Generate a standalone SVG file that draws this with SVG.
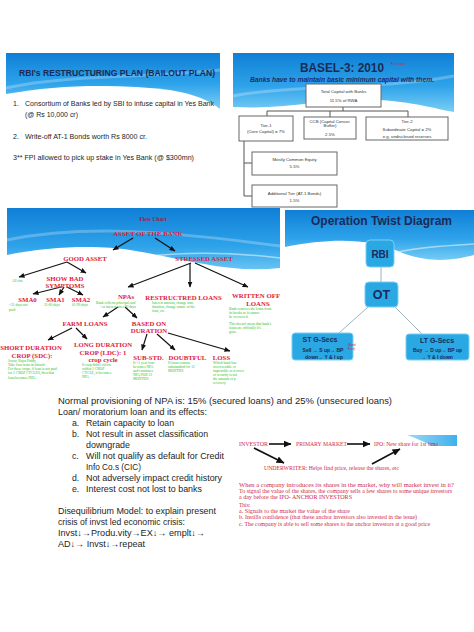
<svg xmlns="http://www.w3.org/2000/svg" width="474" height="632" viewBox="0 0 474 632">
<style>
.ttl{font-family:"Liberation Sans",Arial,sans-serif;font-weight:bold;fill:#1b2a55}
.body{font-family:"Liberation Sans",Arial,sans-serif;fill:#1e1e1e}
.fc{font-family:"Liberation Serif","Times New Roman",serif;font-weight:bold;fill:#e01a3c;font-size:6.8px;text-anchor:middle}
.gr{font-family:"Liberation Serif","Times New Roman",serif;fill:#27c427;font-size:3.6px}
.ipo{font-family:"Liberation Serif","Times New Roman",serif;fill:#d02848;font-size:5.5px}
.box{fill:#fff;stroke:#666;stroke-width:1}
.bx{font-family:"Liberation Sans",Arial,sans-serif;font-size:4.3px;fill:#333;text-anchor:middle}
.ot{fill:#29a8e4;stroke:#7acff3;stroke-width:1}
.ott{font-family:"Liberation Sans",Arial,sans-serif;font-weight:bold;fill:#1b2a5c;text-anchor:middle}
.arr{stroke:#111;stroke-width:1.2;fill:none;marker-end:url(#ah)}
.arr2{stroke:#111;stroke-width:1.6;fill:none;marker-end:url(#ah2)}
.con{stroke:#555;stroke-width:1;fill:none}
.otl{stroke:#9cb4c0;stroke-width:1;fill:none}
.wave{fill:#fff}
</style>
<defs>
<linearGradient id="hdr" x1="0" y1="0" x2="0" y2="1">
<stop offset="0" stop-color="#0f7fd6"/>
<stop offset="0.55" stop-color="#2ea3ea"/>
<stop offset="1" stop-color="#7dcff5"/>
</linearGradient>
<linearGradient id="lb" x1="0" y1="0" x2="1" y2="0">
<stop offset="0" stop-color="#9ad9f7"/>
<stop offset="1" stop-color="#3fb0ec"/>
</linearGradient>
<marker id="ah" markerUnits="userSpaceOnUse" markerWidth="6" markerHeight="5" refX="5.5" refY="2.5" orient="auto">
<path d="M0,0 L6,2.5 L0,5 z" fill="#111"/>
</marker>
<marker id="ah2" markerUnits="userSpaceOnUse" markerWidth="8" markerHeight="7" refX="7.5" refY="3.5" orient="auto">
<path d="M0,0 L8,3.5 L0,7 z" fill="#111"/>
</marker>
</defs>
<rect width="474" height="632" fill="#fff"/>

<!-- Panel 1 -->
<g id="panel-rbi">
<rect x="6" y="53" width="214" height="56" fill="url(#hdr)"/>
<path d="M6,88 C70,74 150,78 220,70" stroke="#fff" stroke-opacity="0.25" stroke-width="3" fill="none"/>
<path class="wave" d="M6,110 L6,94 C60,84 120,84 170,90 C195,94 210,101 220,109 L220,110 Z"/>
<text class="ttl" x="19" y="75.5" font-size="9.5" textLength="196" lengthAdjust="spacingAndGlyphs">RBI's RESTRUCTURING PLAN (BAILOUT PLAN)</text>
<text class="body" x="13" y="105.5" font-size="7">1.</text>
<text class="body" x="25" y="105.5" font-size="7" textLength="189" lengthAdjust="spacingAndGlyphs">Consortium of Banks led by SBI to infuse capital in Yes Bank</text>
<text class="body" x="25" y="116.5" font-size="7" textLength="53" lengthAdjust="spacingAndGlyphs">(@ Rs 10,000 cr)</text>
<text class="body" x="13" y="138.5" font-size="7">2.</text>
<text class="body" x="25" y="138.5" font-size="7" textLength="122" lengthAdjust="spacingAndGlyphs">Write-off AT-1 Bonds worth Rs 8000 cr.</text>
<text class="body" x="13" y="159.5" font-size="7" textLength="181" lengthAdjust="spacingAndGlyphs">3** FPI allowed to pick up stake in Yes Bank (@ $300mn)</text>
</g>

<!-- Panel 2 -->
<g id="panel-basel">
<rect x="233" y="53" width="221" height="60" fill="url(#hdr)"/>
<path d="M233,96 C300,84 380,90 454,76" stroke="#fff" stroke-opacity="0.25" stroke-width="3" fill="none"/>
<path class="wave" d="M233,114 L233,107 C290,110 330,97 380,100 C420,103 440,110 454,112 L454,114 Z"/>
<text class="ttl" x="300" y="71.5" font-size="12.5" textLength="84" lengthAdjust="spacingAndGlyphs">BASEL-3: 2010</text>
<text x="391" y="65" font-family="Liberation Sans,Arial,sans-serif" font-size="3.5" fill="#d0203c">Fin Index</text>
<text x="250" y="81.5" font-family="Liberation Sans,Arial,sans-serif" font-size="7.2" font-weight="bold" font-style="italic" fill="#1f2d6a" textLength="184" lengthAdjust="spacingAndGlyphs">Banks have to maintain basic minimum capital with them.</text>
</g>
<g id="basel-connectors">
<path class="con" d="M343,107 V111 M267,111 H408 M267,111 V116 M330,111 V117 M408,111 V117 M244,141 V196 M244,163 H252 M244,196 H252"/>
</g>
<g id="n-total"><rect class="box" x="306" y="84" width="75" height="23"/><text class="bx" x="343.5" y="93">Total Capital with Banks</text><text class="bx" x="343.5" y="102">11.5% of RWA</text></g>
<g id="n-tier1"><rect class="box" x="239" y="116" width="54" height="25"/><text class="bx" x="266" y="126.5">Tier-1</text><text class="bx" x="266" y="133">(Core Capital) = 7%</text></g>
<g id="n-ccb"><rect class="box" x="304" y="117" width="52" height="22"/><text class="bx" x="330" y="122.5">CCB (Capital Conser.</text><text class="bx" x="330" y="127">Buffer)</text><text class="bx" x="330" y="135.5">2.5%</text></g>
<g id="n-tier2"><rect class="box" x="366" y="117" width="82" height="23"/><text class="bx" x="407" y="122.5">Tier-2</text><text class="bx" x="407" y="130.8">Subordinate Capital = 2%</text><text class="bx" x="407" y="138">e.g. undisclosed reserves</text></g>
<g id="n-common"><rect class="box" x="252" y="152" width="85" height="23"/><text class="bx" x="294.5" y="160.5">Mostly Common Equity</text><text class="bx" x="294.5" y="168">5.5%</text></g>
<g id="n-at1"><rect class="box" x="252" y="185" width="85" height="22"/><text class="bx" x="294.5" y="195">Additional Tier (AT-1 Bonds)</text><text class="bx" x="294.5" y="202">1.5%</text></g>

<!-- Panel 3: flow chart -->
<g id="panel-flow">
<rect x="7" y="208" width="273" height="70" fill="url(#hdr)"/>
<path d="M7,240 C80,225 160,230 280,246" stroke="#fff" stroke-opacity="0.25" stroke-width="3" fill="none"/>
<path d="M110,262 C170,250 230,252 280,258" stroke="#fff" stroke-opacity="0.5" stroke-width="1.5" fill="none"/>
<path class="wave" d="M7,279 L7,255 C50,246 100,245 130,250 C180,258 230,274 280,268 L280,279 Z"/>
<text x="153" y="221" font-family="Liberation Serif,Times New Roman,serif" font-weight="bold" font-size="5.5" fill="#b0123a" text-anchor="middle">Flow Chart</text>
</g>
<g id="flow-connectors">
<path class="arr" d="M133,238 L113,250"/>
<path class="arr" d="M155,238 L175,251"/>
<path class="arr" d="M67,262 L19,277"/>
<path class="arr" d="M67,262 L86,273"/>
<path class="arr" d="M61,287 L33,294"/>
<path class="arr" d="M64,287 L59,295"/>
<path class="arr" d="M67,287 L83,295"/>
<path class="arr" d="M191,263 L128,287"/>
<path class="arr" d="M190,263 L190,287"/>
<path class="arr" d="M195,263 L248,287"/>
<path class="arr" d="M118,307 L103,317"/>
<path class="arr" d="M125,307 L137,318"/>
<path class="arr" d="M72,328 L48,340"/>
<path class="arr" d="M76,328 L87,339"/>
<path class="arr" d="M147,334 L142,350"/>
<path class="arr" d="M157,334 L175,350"/>
<path class="arr" d="M168,333 L230,351"/>
</g>
<g id="f-asset"><text class="fc" x="148" y="235.5">ASSET OF THE BANK</text></g>
<g id="f-good"><text class="fc" x="85" y="260.5">GOOD ASSET</text><text class="gr" x="12" y="282">All fine</text></g>
<g id="f-stressed"><text class="fc" x="204" y="260.5">STRESSED ASSET</text></g>
<g id="f-bad"><text class="fc" x="65" y="280.5">SHOW BAD</text><text class="fc" x="65" y="287.5">SYMPTOMS</text></g>
<g id="f-sma0"><text class="fc" x="27.5" y="301.5">SMA0</text><text class="gr" x="9" y="306">&lt;31 days not</text><text class="gr" x="9" y="311">paid</text></g>
<g id="f-sma1"><text class="fc" x="55.5" y="301.5">SMA1</text><text class="gr" x="44" y="306">31-60 days</text></g>
<g id="f-sma2"><text class="fc" x="81" y="301.5">SMA2</text><text class="gr" x="72" y="306">61-90 days</text></g>
<g id="f-npa"><text class="fc" x="126" y="299">NPAs</text><text class="gr" x="96" y="304">Bank collects principal and</text><text class="gr" x="100" y="308">/ or interest after 90 days</text></g>
<g id="f-restr"><text class="fc" x="183.5" y="299.5">RESTRUCTRED LOANS</text><text class="gr" x="152" y="304">Interest amount, change time</text><text class="gr" x="152" y="308">duration, change nature of the</text><text class="gr" x="152" y="312">loan, etc.</text></g>
<g id="f-written"><text class="fc" x="256" y="297.5">WRITTEN OFF</text><text class="fc" x="258" y="305.5">LOANS</text>
<text class="gr" x="229" y="309.5">Bank removes the loans from</text><text class="gr" x="229" y="313.5">its books as it cannot</text><text class="gr" x="229" y="317.5">be recovered.</text>
<text class="gr" x="229" y="324.5">This doesn't mean that bank's</text><text class="gr" x="229" y="328.5">loans are officially it's</text><text class="gr" x="229" y="332.5">gone.</text></g>
<g id="f-farm"><text class="fc" x="85" y="325.5">FARM LOANS</text></g>
<g id="f-based"><text class="fc" x="149" y="325.5">BASED ON</text><text class="fc" x="149" y="332.5">DURATION</text></g>
<g id="f-sdc"><text class="fc" x="31" y="349.5">SHORT DURATION</text><text class="fc" x="32" y="357.5">CROP (SDC):</text>
<text class="gr" x="8" y="361.5">Jowar, Bajra Paddy</text><text class="gr" x="8" y="365.8">Take loan from its branch</text><text class="gr" x="8" y="370.1">For these crops, if loan is not paid</text><text class="gr" x="8" y="374.4">for 2 CROP CYCLES, then that</text><text class="gr" x="8" y="378.7">loan becomes NPA.</text></g>
<g id="f-ldc"><text class="fc" x="103" y="346.5">LONG DURATION</text><text class="fc" x="103" y="354.5">CROP (LDC): 1</text><text class="fc" x="103" y="361.5">crop cycle</text>
<text class="gr" x="82" y="365.5">If crop didn't effects</text><text class="gr" x="82" y="369.8">within 1 CROP</text><text class="gr" x="82" y="374.1">CYCLE, it becomes</text><text class="gr" x="82" y="378.4">NPA</text></g>
<g id="f-sub"><text class="fc" x="148.5" y="359.5">SUB-STD.</text>
<text class="gr" x="133" y="363.5">If &gt;1 year loan</text><text class="gr" x="133" y="367.5">becomes NPA</text><text class="gr" x="133" y="371.5">and continues</text><text class="gr" x="133" y="375.5">NPA FOR 12</text><text class="gr" x="133" y="379.5">MONTHS.</text></g>
<g id="f-doubt"><text class="fc" x="187.5" y="359.5">DOUBTFUL</text>
<text class="gr" x="168" y="363.5">If loans remain</text><text class="gr" x="168" y="367.5">substandard for 12</text><text class="gr" x="168" y="371.5">MONTHS</text></g>
<g id="f-loss"><text class="fc" x="221.5" y="359.5">LOSS</text>
<text class="gr" x="213" y="363.5">Which bank has</text><text class="gr" x="213" y="367.5">irrecoverable or</text><text class="gr" x="213" y="371.5">impossible to recover</text><text class="gr" x="213" y="375.5">of security is not</text><text class="gr" x="213" y="379.5">the amount of p</text><text class="gr" x="213" y="383.5">recovery.</text></g>

<!-- Panel 4: Operation Twist -->
<g id="panel-ot">
<rect x="285" y="210" width="189" height="52" fill="url(#hdr)"/>
<path d="M380,256 C410,248 440,246 474,244" stroke="#fff" stroke-opacity="0.5" stroke-width="1.5" fill="none"/>
<path class="wave" d="M285,263 L285,247 C330,238 370,238 400,252 C430,264 455,260 474,255 L474,263 Z"/>
<text class="ttl" x="311" y="224.5" font-size="12" textLength="141" lengthAdjust="spacingAndGlyphs">Operation Twist Diagram</text>
</g>
<g id="ot-connectors">
<path class="otl" d="M381,267 V282 M368,307 L339,333 M395,307 L422,334"/>
</g>
<g id="n-rbi"><rect class="ot" x="366" y="240" width="28" height="27" rx="4"/><text class="ott" x="380" y="258" font-size="10">RBI</text></g>
<g id="n-ot"><rect class="ot" x="365" y="282" width="33" height="25" rx="4"/><text class="ott" x="381.5" y="299" font-size="12.5">OT</text></g>
<g id="n-st"><rect class="ot" x="292" y="333" width="61" height="27" rx="3"/><text class="ott" x="320" y="341.5" font-size="7">ST G-Secs</text><text class="ott" x="323" y="351.5" font-size="5">Sell → S up→ BP</text><text class="ott" x="324" y="358.5" font-size="5">down→ Y &amp; I up</text>
<text x="348" y="345.5" font-family="Liberation Sans,Arial,sans-serif" font-size="2.8" fill="#d0203c">(Bond</text><text x="348" y="349.5" font-family="Liberation Sans,Arial,sans-serif" font-size="2.8" fill="#d0203c">Price)</text></g>
<g id="n-lt"><rect class="ot" x="406" y="334" width="63" height="26" rx="3"/><text class="ott" x="437" y="342.5" font-size="7">LT G-Secs</text><text class="ott" x="437.5" y="351.5" font-size="5">Buy → D up→ BP up</text><text class="ott" x="437" y="358.5" font-size="5">→ Y &amp; I down</text></g>

<!-- Bottom left text -->
<g id="notes">
<text class="body" x="58" y="404" font-size="8.7" textLength="334" lengthAdjust="spacingAndGlyphs">Normal provisioning of NPA is: 15% (secured loans) and 25% (unsecured loans)</text>
<text class="body" x="58" y="414.5" font-size="8.7" textLength="149" lengthAdjust="spacingAndGlyphs">Loan/ moratorium loan and its effects:</text>
<text class="body" x="72" y="425.5" font-size="8.7">a.</text><text class="body" x="86" y="425.5" font-size="8.7" textLength="88" lengthAdjust="spacingAndGlyphs">Retain capacity to loan</text>
<text class="body" x="72" y="436.5" font-size="8.7">b.</text><text class="body" x="86" y="436.5" font-size="8.7" textLength="122" lengthAdjust="spacingAndGlyphs">Not result in asset classification</text>
<text class="body" x="86" y="447.5" font-size="8.7" textLength="44" lengthAdjust="spacingAndGlyphs">downgrade</text>
<text class="body" x="72" y="458.5" font-size="8.7">c.</text><text class="body" x="86" y="458.5" font-size="8.7" textLength="138" lengthAdjust="spacingAndGlyphs">Will not qualify as default for Credit</text>
<text class="body" x="86" y="469.5" font-size="8.7" textLength="55" lengthAdjust="spacingAndGlyphs">Info Co.s (CIC)</text>
<text class="body" x="72" y="480.5" font-size="8.7">d.</text><text class="body" x="86" y="480.5" font-size="8.7" textLength="136" lengthAdjust="spacingAndGlyphs">Not adversely impact credit history</text>
<text class="body" x="72" y="491.5" font-size="8.7">e.</text><text class="body" x="86" y="491.5" font-size="8.7" textLength="116" lengthAdjust="spacingAndGlyphs">Interest cost not lost to banks</text>
<text class="body" x="58" y="514" font-size="8.7" textLength="158" lengthAdjust="spacingAndGlyphs">Disequilibrium Model: to explain present</text>
<text class="body" x="58" y="524.5" font-size="8.7" textLength="127" lengthAdjust="spacingAndGlyphs">crisis of invst led economic crisis:</text>
<text class="body" x="58" y="536" font-size="8.7" textLength="147" lengthAdjust="spacingAndGlyphs">Invst↓→Produ.vity→EX↓→ emplt↓→</text>
<text class="body" x="58" y="546.5" font-size="8.7" textLength="87" lengthAdjust="spacingAndGlyphs">AD↓→ Invst↓→repeat</text>
</g>

<!-- IPO section -->
<path d="M407,435 L457,435 L457,446 L432,446 C425,442 416,438 407,435 Z" fill="url(#lb)"/>
<g id="ipo-connectors">
<path class="arr2" d="M269,444 L291,444"/>
<path class="arr2" d="M347,444 L370,444"/>
<path class="arr2" d="M254,448 L284,463"/>
<path class="arr2" d="M372,464 L400,449"/>
</g>
<g id="i-investor"><text class="ipo" x="239" y="446" textLength="29" lengthAdjust="spacingAndGlyphs">INVESTOR</text></g>
<g id="i-primary"><text class="ipo" x="296" y="446" textLength="51" lengthAdjust="spacingAndGlyphs">PRIMARY MARKET</text></g>
<g id="i-ipo"><text class="ipo" x="374" y="446" textLength="64" lengthAdjust="spacingAndGlyphs">IPO: New share for 1st time</text></g>
<g id="i-under"><text class="ipo" x="264" y="470" textLength="135" lengthAdjust="spacingAndGlyphs">UNDERWRITER: Helps find price, release the shares, etc</text></g>
<g id="ipo-notes">
<text class="ipo" x="239" y="487" textLength="215" lengthAdjust="spacingAndGlyphs">When a company introduces its shares in the market, why will market invest in it?</text>
<text class="ipo" x="239" y="493" textLength="213" lengthAdjust="spacingAndGlyphs">To signal the value of the shares, the company sells a few shares to some unique investors</text>
<text class="ipo" x="239" y="498.5" textLength="113" lengthAdjust="spacingAndGlyphs">a day before the IPO- ANCHOR INVESTORS</text>
<text class="ipo" x="239" y="506.5">This:</text>
<text class="ipo" x="239" y="512.5" textLength="111" lengthAdjust="spacingAndGlyphs">a. Signals to the market the value of the share</text>
<text class="ipo" x="239" y="518.5" textLength="178" lengthAdjust="spacingAndGlyphs">b. Instills confidence (that these anchor investors also invested in the issue)</text>
<text class="ipo" x="239" y="525.5" textLength="191" lengthAdjust="spacingAndGlyphs">c. The company is able to sell some shares to the anchor investors at a good price</text>
</g>
</svg>
